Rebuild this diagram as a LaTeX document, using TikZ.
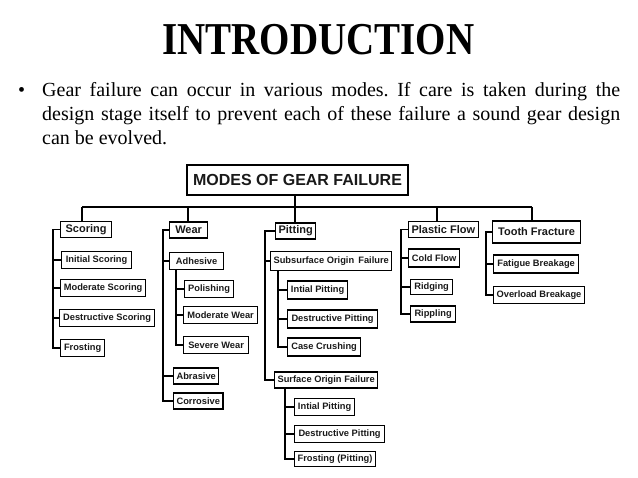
\documentclass[tikz,border=0pt]{standalone}
\usepackage{fontspec}
\setmainfont{Liberation Serif}
\newfontfamily\arialf{Liberation Sans}
\usepackage{graphicx}
\frenchspacing
\begin{document}
\begin{tikzpicture}[x=1pt,y=-1pt,
  box/.style={draw=black,line width=1.2pt,anchor=west,inner xsep=3pt,inner ysep=0pt,
    minimum height=17pt,text=black!90,font=\arialf\bfseries\fontsize{9.3}{9.3}\selectfont},
  head/.style={box,minimum height=16pt,font=\arialf\bfseries\fontsize{11}{11}\selectfont},
  conn/.style={line width=1.1pt,draw=black}]
\useasboundingbox (0,0) rectangle (638,478);
% title and text
\node[inner sep=0pt] (title) at (318.5,39.5) {\scalebox{1}[1.17]{\fontsize{39}{39}\selectfont\bfseries INTRODUCTION}};
\node[anchor=base,inner sep=0pt,font=\fontsize{20}{20}\selectfont] (bul) at (21.7,97) {•};
\node[anchor=base west,inner sep=0pt,font=\fontsize{20}{20}\selectfont] (l1) at (42,97)
  {\makebox[578pt][s]{Gear failure can occur in various modes. If care is taken during the}};
\node[anchor=base west,inner sep=0pt,font=\fontsize{20}{20}\selectfont] (l2) at (42,121)
  {\makebox[578pt][s]{design stage itself to prevent each of these failure a sound gear design}};
\node[anchor=base west,inner sep=0pt,font=\fontsize{20}{20}\selectfont] (l3) at (42,145)
  {can be evolved.};
% main box
\node[box,anchor=center,minimum width=221pt,minimum height=30pt,
  font=\arialf\bfseries\fontsize{16}{16}\selectfont] (main) at (297.5,180) {MODES OF GEAR FAILURE};
% headers
\node[head,minimum width=51pt] (scoring) at (60,229.5) {Scoring};
\node[head,minimum width=38pt] (wear) at (169,230) {Wear};
\node[head,minimum width=40pt] (pitting) at (275,231) {Pitting};
\node[head,minimum width=69pt] (plastic) at (408,229.5) {Plastic Flow};
\node[head,minimum width=88pt,minimum height=22pt] (tooth) at (492,232) {Tooth Fracture};
% scoring children
\node[box,minimum width=70pt] (iscor) at (61,260) {Initial Scoring};
\node[box,minimum width=85pt] (mscor) at (60,288) {Moderate Scoring};
\node[box,minimum width=95pt] (dscor) at (59,318) {Destructive Scoring};
\node[box,minimum width=44pt] (frost) at (60,348) {Frosting};
% wear children
\node[box,minimum width=54pt] (adh) at (169,261) {Adhesive};
\node[box,minimum width=49pt] (polish) at (184,289) {Polishing};
\node[box,minimum width=74pt] (mwear) at (183,315) {Moderate Wear};
\node[box,minimum width=65pt] (swear) at (183,345) {Severe Wear};
\node[box,minimum width=44pt,minimum height=16pt] (abr) at (173,376) {Abrasive};
\node[box,minimum width=49pt,minimum height=16pt] (corr) at (173,401) {Corrosive};
% pitting children
\node[box,minimum width=121pt,minimum height=19pt] (subs) at (270,261) {Subsurface Origin\, Failure};
\node[box,minimum width=60pt,minimum height=18pt] (ipa) at (287,290) {Intial Pitting};
\node[box,minimum width=90pt,minimum height=18pt] (dpa) at (287,319) {Destructive Pitting};
\node[box,minimum width=73pt,minimum height=18pt] (case) at (287,347) {Case Crushing};
\node[box,minimum width=102pt,minimum height=16pt] (surf) at (274,380) {Surface Origin Failure};
\node[box,minimum width=60pt] (ipb) at (294,407) {Intial Pitting};
\node[box,minimum width=90pt] (dpb) at (294,434) {Destructive Pitting};
\node[box,minimum width=76pt,minimum height=15pt] (frostp) at (294,459) {Frosting (Pitting)};
% plastic flow children
\node[box,minimum width=51pt,minimum height=18pt] (cold) at (408,258) {Cold Flow};
\node[box,minimum width=42pt,minimum height=15pt] (ridge) at (410,287) {Ridging};
\node[box,minimum width=45pt,minimum height=16pt] (ripple) at (410,314) {Rippling};
% tooth fracture children
\node[box,minimum width=85pt,minimum height=18pt] (fatig) at (493,264) {Fatigue Breakage};
\node[box,minimum width=89pt] (overl) at (493,295) {Overload Breakage};
% bus and drops
\coordinate (busL) at (82,207);
\coordinate (busR) at (532,207);
\coordinate (dM) at (295,207);
\coordinate (dW) at (188,207);
\coordinate (dP) at (295,207);
\coordinate (dPF) at (437,207);
\draw[conn] (busL) -- (busR);
\draw[conn] (dM |- main.south) -- (dM);
\draw[conn] (busL) -- (busL |- scoring.north);
\draw[conn] (dW) -- (dW |- wear.north);
\draw[conn] (dP) -- (dP |- pitting.north);
\draw[conn] (dPF) -- (dPF |- plastic.north);
\draw[conn] (busR) -- (busR |- tooth.north);
% trunks
\coordinate (tS) at (53,0);
\coordinate (tW) at (163,0);
\coordinate (tA) at (176,0);
\coordinate (tP) at (265,0);
\coordinate (tSub) at (278,0);
\coordinate (tSf) at (285,0);
\coordinate (tPF) at (401,0);
\coordinate (tT) at (486,0);
\draw[conn] (scoring.west) -- (scoring.west -| tS) |- (frost.west);
\foreach \c in {iscor,mscor,dscor} \draw[conn] (\c.west) -- (\c.west -| tS);
\draw[conn] (wear.west) -- (wear.west -| tW) |- (corr.west);
\foreach \c in {adh,abr} \draw[conn] (\c.west) -- (\c.west -| tW);
\draw[conn] (adh.south -| tA) |- (swear.west);
\foreach \c in {polish,mwear} \draw[conn] (\c.west) -- (\c.west -| tA);
\draw[conn] (pitting.west) -- (pitting.west -| tP) |- (surf.west);
\draw[conn] (subs.west) -- (subs.west -| tP);
\draw[conn] (subs.south -| tSub) |- (case.west);
\foreach \c in {ipa,dpa} \draw[conn] (\c.west) -- (\c.west -| tSub);
\draw[conn] (surf.south -| tSf) |- (frostp.west);
\foreach \c in {ipb,dpb} \draw[conn] (\c.west) -- (\c.west -| tSf);
\draw[conn] (plastic.west) -- (plastic.west -| tPF) |- (ripple.west);
\foreach \c in {cold,ridge} \draw[conn] (\c.west) -- (\c.west -| tPF);
\draw[conn] (tooth.west) -- (tooth.west -| tT) |- (overl.west);
\draw[conn] (fatig.west) -- (fatig.west -| tT);
\end{tikzpicture}
\end{document}
